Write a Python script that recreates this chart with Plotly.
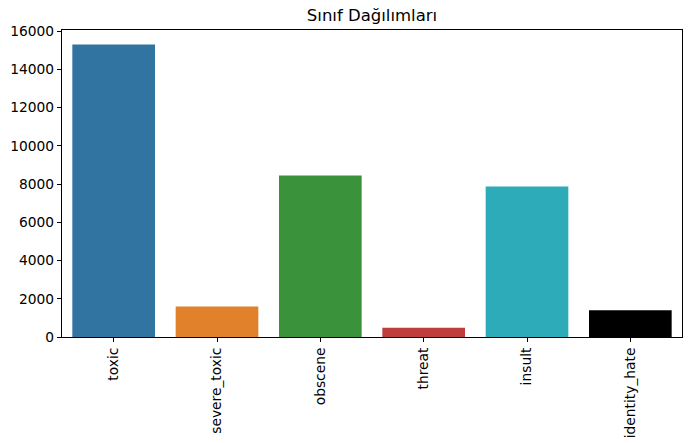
import plotly.graph_objects as go

categories = ["toxic", "severe_toxic", "obscene", "threat", "insult", "identity_hate"]
counts = [15294, 1595, 8449, 478, 7877, 1405]
colors = ["#3274a1", "#e1812c", "#3a923a", "#c03d3e", "#2eabb8", "#000000"]
y_ticks = [0, 2000, 4000, 6000, 8000, 10000, 12000, 14000, 16000]

fig = go.Figure(go.Bar(x=categories, y=counts, marker=dict(color=colors, line=dict(width=0)), width=0.8))

font = "DejaVu Sans"
fig.update_layout(
    width=688, height=443,
    margin=dict(l=62, r=6, t=30, b=106, autoexpand=False),
    paper_bgcolor="white", plot_bgcolor="white",
    showlegend=False,
    title=dict(text="Sınıf Dağılımları", x=372/688, xanchor="center", xref="container",
               y=1 - 15/443, yanchor="middle", yref="container",
               font=dict(family=font, size=16.5, color="black")),
    font=dict(family=font, size=13.8, color="black"),
)
fig.update_xaxes(range=[-0.5, 5.5], showline=True, linecolor="black", linewidth=1.2, mirror=True,
                 ticks="outside", ticklen=4, tickcolor="black", tickangle=-90, showgrid=False,
                 automargin=False, tickfont=dict(family=font, size=13.8, color="black"))
fig.update_yaxes(range=[0, 16058], showline=True, linecolor="black", linewidth=1.2, mirror=True,
                 ticks="outside", ticklen=4, tickcolor="black", tickvals=y_ticks,
                 ticktext=[str(v) for v in y_ticks], showgrid=False, zeroline=False,
                 automargin=False, tickfont=dict(family=font, size=13.8, color="black"))

fig.write_html("out.html", config={"displayModeBar": False},
               post_script="document.body.style.margin='0';document.body.style.padding='0';")
